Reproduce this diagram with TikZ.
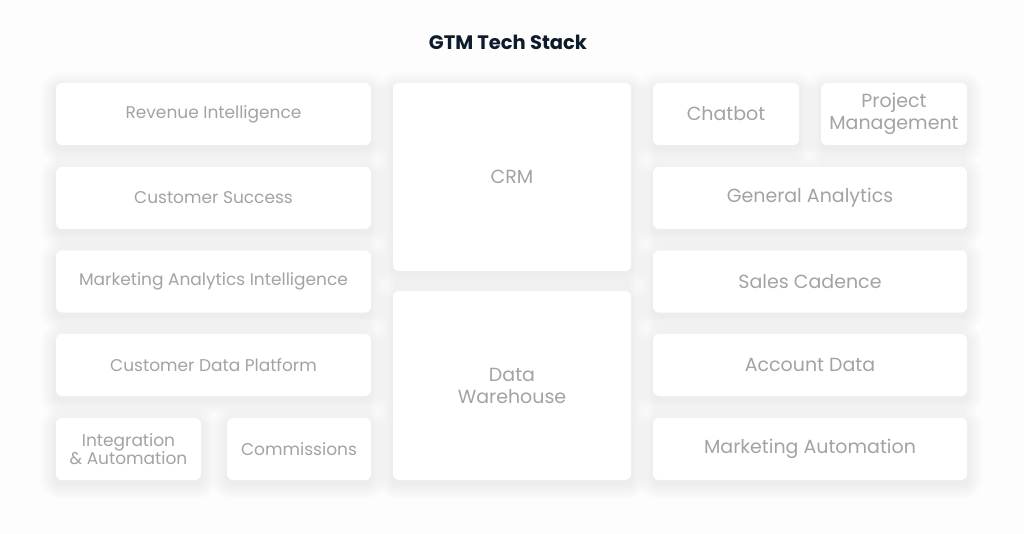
\documentclass[tikz,border=0pt]{standalone}
\usepackage{fontspec}
\setmainfont{Poppins}
\usetikzlibrary{backgrounds}
\definecolor{bgc}{HTML}{FDFDFD}
\definecolor{txt}{HTML}{A3A3A3}
\definecolor{ttl}{HTML}{0E1B2B}
\tikzset{
  tile/.style={fill=white, rounded corners=6pt, inner sep=0pt, align=center,
    text=txt, font=\fontsize{17}{19}\selectfont},
  bigtile/.style={tile, font=\fontsize{19}{22}\selectfont},
  shadelayer/.style={fill=black, opacity=0.005},
}
\newcommand\softshadow[1]{%
  \foreach \i in {1,...,16}{%
    \pgfmathsetmacro\rr{6+\i}%
    \fill[shadelayer, rounded corners=\rr pt] ([shift={(-\i pt,\i pt-4pt)}]#1.north west) rectangle ([shift={(\i pt,-\i pt-4pt)}]#1.south east);
  }}
\begin{document}
\begin{tikzpicture}[x=1pt,y=-1pt]
\useasboundingbox (0,0) rectangle (1024,534);
\node[font=\bfseries\fontsize{19.5}{22}\selectfont, text=ttl] (title) at (508,42) {GTM Tech Stack};
% left column
\node[tile, minimum width=315pt, minimum height=62pt] (ri) at (213.5,114) {Revenue Intelligence};
\node[tile, minimum width=315pt, minimum height=62pt] (cs) at (213.5,198) {Customer Success};
\node[tile, minimum width=315pt, minimum height=62pt] (mai) at (213.5,281.5) {Marketing Analytics Intelligence};
\node[tile, minimum width=315pt, minimum height=62pt] (cdp) at (213.5,365) {Customer Data Platform};
\node[tile, minimum width=145pt, minimum height=62pt, font=\fontsize{17}{18}\selectfont] (ia) at (128.5,449) {Integration\\\& Automation};
\node[tile, minimum width=144pt, minimum height=62pt] (com) at (299,449) {Commissions};
% middle column
\node[bigtile, minimum width=238pt, minimum height=188pt] (crm) at (512,177) {CRM};
\node[bigtile, minimum width=238pt, minimum height=189pt, font=\fontsize{19}{22}\selectfont] (dw) at (512,385.5) {Data\\Warehouse};
% right column
\node[bigtile, minimum width=146pt, minimum height=62pt] (cb) at (726,114) {Chatbot};
\node[bigtile, minimum width=146pt, minimum height=62pt, font=\fontsize{19}{22}\selectfont] (pm) at (894,114) {Project\\Management};
\node[bigtile, minimum width=314pt, minimum height=62pt] (ga) at (810,198) {General Analytics};
\node[bigtile, minimum width=314pt, minimum height=62pt] (sc) at (810,281.5) {Sales Cadence};
\node[bigtile, minimum width=314pt, minimum height=62pt] (ad) at (810,365) {Account Data};
\node[bigtile, minimum width=314pt, minimum height=62pt] (ma) at (810,449) {Marketing Automation};
\begin{scope}[on background layer]
\fill[bgc] (0,0) rectangle (1024,534);
\foreach \n in {ri,cs,mai,cdp,ia,com,crm,dw,cb,pm,ga,sc,ad,ma}{\softshadow{\n}}
\end{scope}
\end{tikzpicture}
\end{document}
